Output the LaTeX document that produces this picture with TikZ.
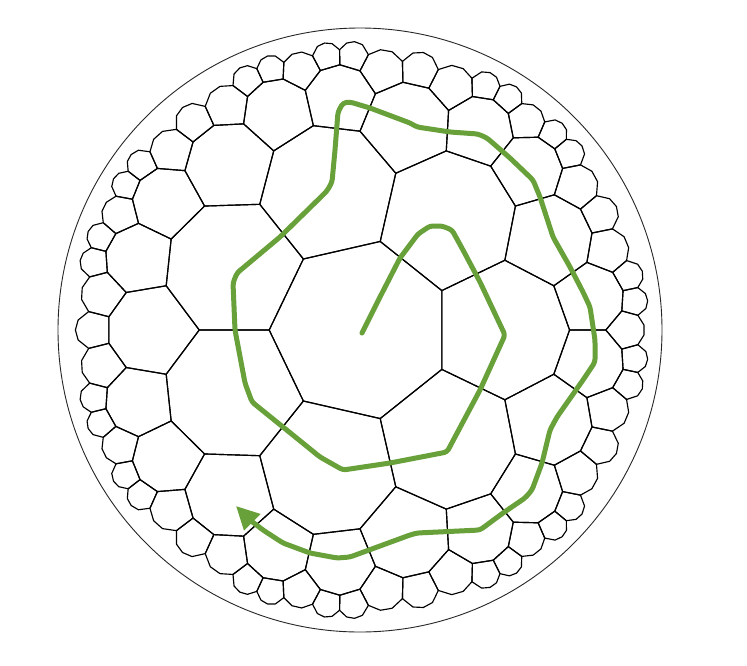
\documentclass[tikz,border=0pt]{standalone}
\usetikzlibrary{arrows.meta}
\definecolor{spiralgreen}{RGB}{104,160,58}
\tikzset{
  tileline/.style={draw=black,line width=1.15pt,line join=round},
  diskline/.style={draw=black!85,line width=0.9pt},
  spiralline/.style={draw=spiralgreen,line width=5pt,line join=round,line cap=round,rounded corners=3pt}
}
% ---- hyperbolic {7,3} tiling constants (Poincare disk) ----
\edef\hC{\fpeval{0.5/sin(pi/7)}}
\edef\hS{\fpeval{sqrt((\hC)*(\hC)-1)}}
\edef\cV{\fpeval{cot(pi/7)*cot(pi/3)}}
\edef\rV{\fpeval{sqrt(((\cV)-1)/((\cV)+1))}}
\newcount\hyj
\hyj=0
\loop
  \expandafter\edef\csname hvr\the\hyj\endcsname{\fpeval{(\rV)*cos((2*\the\hyj-1)*pi/7)}}
  \expandafter\edef\csname hvi\the\hyj\endcsname{\fpeval{(\rV)*sin((2*\the\hyj-1)*pi/7)}}
  \expandafter\edef\csname gar\the\hyj\endcsname{\fpeval{(\hC)*sin(\the\hyj*pi/7)}}
  \expandafter\edef\csname gai\the\hyj\endcsname{\fpeval{-(\hC)*cos(\the\hyj*pi/7)}}
  \expandafter\edef\csname gbr\the\hyj\endcsname{\fpeval{-(\hS)*sin(\the\hyj*pi/7)}}
  \expandafter\edef\csname gbi\the\hyj\endcsname{\fpeval{(\hS)*cos(\the\hyj*pi/7)}}
  \advance\hyj by 1
\ifnum\hyj<7 \repeat
% vertex image: args ar ai br bi j  -> \hX \hY
\def\hyvert#1#2#3#4#5{%
  \edef\hyvr{\csname hvr#5\endcsname}%
  \edef\hyvi{\csname hvi#5\endcsname}%
  \edef\hynr{\fpeval{(#1)*(\hyvr)-(#2)*(\hyvi)+(#3)}}%
  \edef\hyni{\fpeval{(#1)*(\hyvi)+(#2)*(\hyvr)+(#4)}}%
  \edef\hydr{\fpeval{(#3)*(\hyvr)+(#4)*(\hyvi)+(#1)}}%
  \edef\hydi{\fpeval{(#3)*(\hyvi)-(#4)*(\hyvr)-(#2)}}%
  \edef\hyq{\fpeval{(\hydr)*(\hydr)+(\hydi)*(\hydi)}}%
  \edef\hX{\fpeval{round(360+302*((\hynr)*(\hydr)+(\hyni)*(\hydi))/(\hyq),2)}}%
  \edef\hY{\fpeval{round(330-302*((\hyni)*(\hydr)-(\hynr)*(\hydi))/(\hyq),2)}}%
}
% child across edge #5 with type #6 and depth #7
\def\hychild#1#2#3#4#5#6#7{%
  \begingroup
  \edef\gAr{\csname gar#5\endcsname}\edef\gAi{\csname gai#5\endcsname}%
  \edef\gBr{\csname gbr#5\endcsname}\edef\gBi{\csname gbi#5\endcsname}%
  \edef\hyNar{\fpeval{(#1)*(\gAr)-(#2)*(\gAi)+(#3)*(\gBr)+(#4)*(\gBi)}}%
  \edef\hyNai{\fpeval{(#1)*(\gAi)+(#2)*(\gAr)+(#4)*(\gBr)-(#3)*(\gBi)}}%
  \edef\hyNbr{\fpeval{(#1)*(\gBr)-(#2)*(\gBi)+(#3)*(\gAr)+(#4)*(\gAi)}}%
  \edef\hyNbi{\fpeval{(#1)*(\gBi)+(#2)*(\gBr)+(#4)*(\gAr)-(#3)*(\gAi)}}%
  \edef\hyNext{\noexpand\hytile{\hyNar}{\hyNai}{\hyNbr}{\hyNbi}{#6}{#7}}%
  \hyNext
  \endgroup}
% tile: ar ai br bi type depth
\def\hytile#1#2#3#4#5#6{%
  \begingroup
  \hyvert{#1}{#2}{#3}{#4}{0}\edef\hypath{(\hX,\hY)}%
  \hyvert{#1}{#2}{#3}{#4}{1}\edef\hypath{\hypath--(\hX,\hY)}%
  \hyvert{#1}{#2}{#3}{#4}{2}\edef\hypath{\hypath--(\hX,\hY)}%
  \hyvert{#1}{#2}{#3}{#4}{3}\edef\hypath{\hypath--(\hX,\hY)}%
  \hyvert{#1}{#2}{#3}{#4}{4}\edef\hypath{\hypath--(\hX,\hY)}%
  \hyvert{#1}{#2}{#3}{#4}{5}\edef\hypath{\hypath--(\hX,\hY)}%
  \hyvert{#1}{#2}{#3}{#4}{6}\edef\hypath{\hypath--(\hX,\hY)}%
  \edef\hydraw{\noexpand\draw[tileline] \hypath -- cycle;}%
  \hydraw
  \ifnum#6<3
    \edef\hyd{\the\numexpr#6+1\relax}%
    \ifcase#5
      \hychild{#1}{#2}{#3}{#4}{0}{1}{\hyd}%
      \hychild{#1}{#2}{#3}{#4}{1}{1}{\hyd}%
      \hychild{#1}{#2}{#3}{#4}{2}{1}{\hyd}%
      \hychild{#1}{#2}{#3}{#4}{3}{1}{\hyd}%
      \hychild{#1}{#2}{#3}{#4}{4}{1}{\hyd}%
      \hychild{#1}{#2}{#3}{#4}{5}{1}{\hyd}%
      \hychild{#1}{#2}{#3}{#4}{6}{1}{\hyd}%
    \or
      \hychild{#1}{#2}{#3}{#4}{2}{2}{\hyd}%
      \hychild{#1}{#2}{#3}{#4}{3}{1}{\hyd}%
      \hychild{#1}{#2}{#3}{#4}{4}{1}{\hyd}%
    \or
      \hychild{#1}{#2}{#3}{#4}{3}{2}{\hyd}%
      \hychild{#1}{#2}{#3}{#4}{4}{1}{\hyd}%
    \fi
  \fi
  \endgroup}
\begin{document}
\begin{tikzpicture}[x=1pt,y=-1pt]
\useasboundingbox (0,0) rectangle (747,665);
\fill[white] (0,0) rectangle (747,665);
\coordinate (disk) at (360,330);
\draw[diskline] (disk) circle[radius=302];
\hytile{1}{0}{0}{0}{0}{0}
% spiral
\coordinate (s0) at (362,333);
\coordinate (s1) at (236,506);
\draw[spiralline,-{Triangle[length=23pt,width=22pt]}] (s0)
  -- (380,297) -- (400,258) -- (418,234) -- (430,226) -- (442,226) -- (452,230)
  -- (463,250) -- (480,282) -- (505,335) -- (480,390) -- (447,452) -- (390,463)
  -- (343,470) -- (320,457) -- (283,427) -- (252,402) -- (245,383) -- (235,330)
  -- (233,283) -- (237,273) -- (280,237) -- (327,191) -- (332,182) -- (335,150)
  -- (338,112) -- (343,103) -- (350,102) -- (370,108) -- (410,123) -- (417,127)
  -- (450,132) -- (478,134) -- (487,138) -- (510,158) -- (533,180) -- (540,197)
  -- (553,237) -- (570,267) -- (583,292) -- (590,307) -- (595,340) -- (595,362)
  -- (583,380) -- (557,417) -- (550,430) -- (542,463) -- (532,490) -- (525,498)
  -- (503,513) -- (480,530) -- (417,533) -- (410,535) -- (350,557) -- (337,558)
  -- (310,553) -- (283,543) -- (263,530) -- (250,520) -- (s1);
\end{tikzpicture}
\end{document}
